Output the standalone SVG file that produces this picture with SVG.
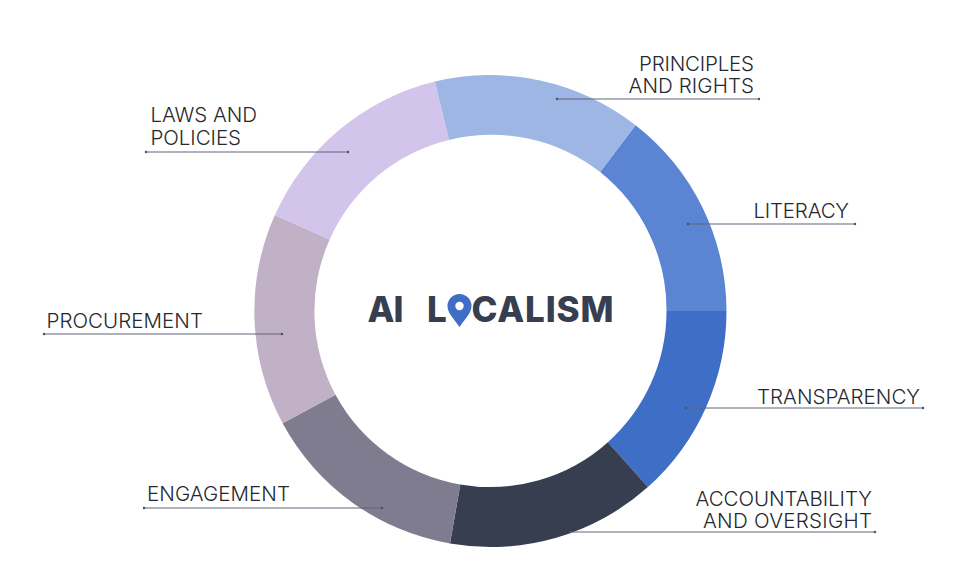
<svg xmlns="http://www.w3.org/2000/svg" width="974" height="578" viewBox="0 0 974 578">
<style>
.lbl{font-family:"Inter","Liberation Sans",sans-serif;font-weight:300;font-size:20.500px;fill:#25282e}
.logo{font-family:"Inter","Liberation Sans",sans-serif;font-weight:800;font-size:35px;fill:#363E50}
.lead{stroke:#5f647a;stroke-width:1;fill:none;marker-start:url(#dot);marker-end:url(#dot)}
</style>
<defs><marker id="dot" markerUnits="userSpaceOnUse" markerWidth="4" markerHeight="4" refX="2" refY="2"><circle cx="2" cy="2" r="1.2" fill="#4a4f63"/></marker></defs>
<rect width="974" height="578" fill="#fff"/>
<g id="ring-literacy"><path fill="#5B84D3" d="M635.6 125.2A236 236 0 0 1 726.5 311H666.5A176 176 0 0 0 600.1 172.1Z"/></g>
<g id="ring-transparency"><path fill="#3F6EC7" d="M726.5 311A236 236 0 0 1 647.9 487L607.9 442.2A176 176 0 0 0 666.5 311Z"/></g>
<g id="ring-accountability"><path fill="#363E50" d="M647.9 487A236 236 0 0 1 450 543.5L460.3 484.4A176 176 0 0 0 607.9 442.2Z"/></g>
<g id="ring-engagement"><path fill="#7F7C90" d="M450 543.5A236 236 0 0 1 282.6 423.3L335.5 394.7A176 176 0 0 0 460.3 484.4Z"/></g>
<g id="ring-procurement"><path fill="#C1B1C6" d="M282.6 423.3A236 236 0 0 1 274.9 215L329.7 239.4A176 176 0 0 0 335.5 394.7Z"/></g>
<g id="ring-laws"><path fill="#D3C4EB" d="M274.9 215A236 236 0 0 1 434.9 81.6L449 139.9A176 176 0 0 0 329.7 239.4Z"/></g>
<g id="ring-principles"><path fill="#9DB6E4" d="M434.9 81.6A236 236 0 0 1 635.6 125.2L600.1 172.1A176 176 0 0 0 449 139.9Z"/></g>
<g id="connectors">
<path class="lead" d="M557 99H759"/>
<path class="lead" d="M146 152H348"/>
<path class="lead" d="M688 224H855"/>
<path class="lead" d="M44 334H282"/>
<path class="lead" d="M686 408H923"/>
<path class="lead" d="M144 508H382"/>
<path class="lead" d="M570 532H875"/>
</g>
<g id="label-principles"><text class="lbl" x="639" y="71" textLength="115">PRINCIPLES</text><text class="lbl" x="628.500" y="93" textLength="125.500">AND RIGHTS</text></g>
<g id="label-laws"><text class="lbl" x="150.500" y="122" textLength="106.500">LAWS AND</text><text class="lbl" x="150.500" y="145" textLength="90.500">POLICIES</text></g>
<g id="label-literacy"><text class="lbl" x="753.500" y="218" textLength="95.500">LITERACY</text></g>
<g id="label-procurement"><text class="lbl" x="46.500" y="328" textLength="156.500">PROCUREMENT</text></g>
<g id="label-transparency"><text class="lbl" x="757" y="404" textLength="163">TRANSPARENCY</text></g>
<g id="label-engagement"><text class="lbl" x="147" y="501" textLength="143">ENGAGEMENT</text></g>
<g id="label-accountability"><text class="lbl" x="695.500" y="506" textLength="176.500">ACCOUNTABILITY</text><text class="lbl" x="703" y="528" textLength="169">AND OVERSIGHT</text></g>
<g id="logo">
<text class="logo" x="367.500" y="322" textLength="36">AI</text>
<text class="logo" x="427" y="322" textLength="17">L</text>
<path fill="#3F6EC7" fill-rule="evenodd" d="M459.500 327C453 318 447.500 312.500 447.500 306A12 12 0 0 1 471.500 306C471.500 312.500 466 318 459.500 327ZM459.500 301.800A4.200 4.200 0 1 0 459.500 310.200A4.200 4.200 0 1 0 459.500 301.800Z"/>
<text class="logo" x="471.500" y="322" textLength="142">CALISM</text>
</g>
</svg>
